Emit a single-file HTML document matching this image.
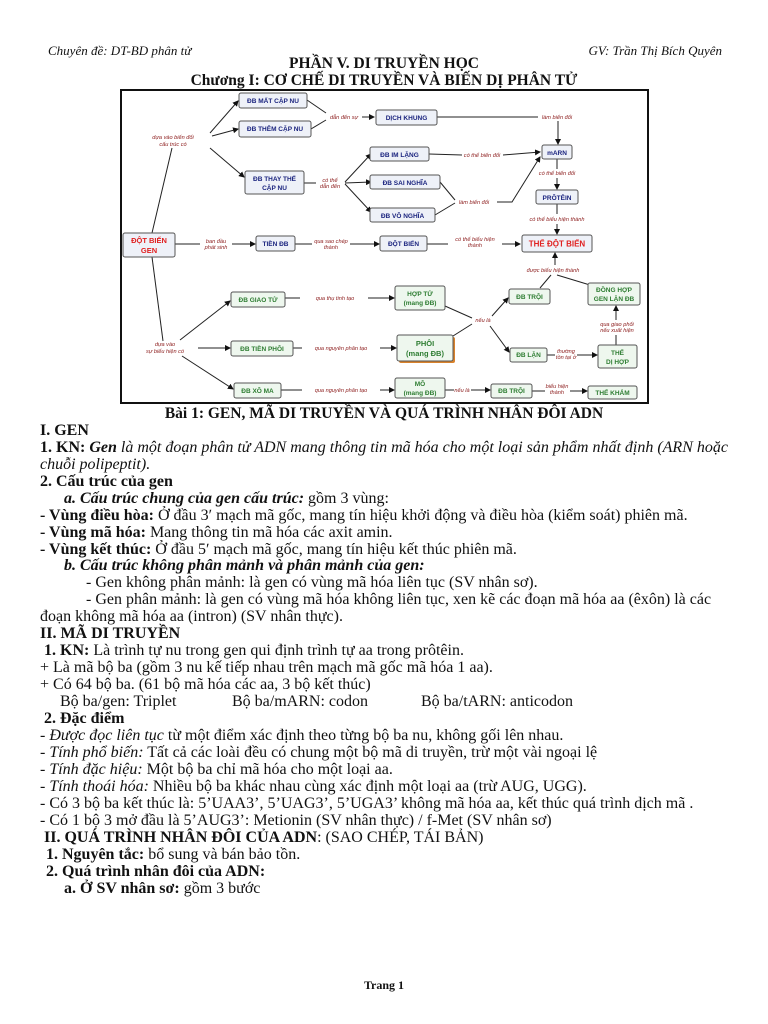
<!DOCTYPE html>
<html><head><meta charset="utf-8">
<style>
body{margin:0;background:#fff;}
#p{position:relative;width:768px;height:1024px;overflow:hidden;font-family:"Liberation Serif","DejaVu Serif",serif;color:#111;}
.l{position:absolute;left:40px;font-size:16px;line-height:17px;white-space:nowrap;}
.c{left:0;width:768px;text-align:center;font-weight:bold;font-size:15.5px;}
b{font-weight:bold}
.n{font-family:"Liberation Sans",sans-serif;font-weight:bold;font-size:6.5px;text-anchor:middle;}
.t{font-family:"Liberation Sans",sans-serif;font-style:italic;font-size:5.6px;fill:#8b1a1a;text-anchor:middle;}
</style></head><body><div id="p">
<div class="l" style="left:48px;top:42px;font-size:13px;font-style:italic">Chuyên đề: DT-BD phân tử</div>
<div class="l" style="left:auto;right:46px;top:42px;font-size:13px;font-style:italic">GV: Trần Thị Bích Quyên</div>
<div class="l c" style="top:55px">PHẦN V. DI TRUYỀN HỌC</div>
<div class="l c" style="top:72px">Chương I: CƠ CHẾ DI TRUYỀN VÀ BIẾN DỊ PHÂN TỬ</div>

<svg style="position:absolute;left:0;top:0" width="768" height="410">
<defs><marker id="a" markerWidth="6" markerHeight="6" refX="5" refY="3" orient="auto" markerUnits="userSpaceOnUse"><path d="M0,0L6,3L0,6z" fill="#111"/></marker></defs>
<rect x="121" y="90" width="527" height="313" fill="#fff" stroke="#111" stroke-width="2"/>
<g stroke="#222" stroke-width="1" fill="none">
<line x1="172" y1="148" x2="152" y2="233"/>
<line x1="210" y1="133" x2="238" y2="101" marker-end="url(#a)"/>
<line x1="212" y1="136" x2="238" y2="129" marker-end="url(#a)"/>
<line x1="210" y1="148" x2="244" y2="177" marker-end="url(#a)"/>
<line x1="307" y1="100" x2="326" y2="113"/><line x1="311" y1="129" x2="326" y2="120"/>
<line x1="362" y1="117" x2="374" y2="117" marker-end="url(#a)"/>
<line x1="437" y1="117" x2="538" y2="117"/>
<line x1="558" y1="121" x2="558" y2="144" marker-end="url(#a)"/>
<line x1="304" y1="183" x2="316" y2="183"/>
<line x1="345" y1="182" x2="371" y2="154" marker-end="url(#a)"/>
<line x1="345" y1="183" x2="371" y2="182" marker-end="url(#a)"/>
<line x1="345" y1="184" x2="371" y2="212" marker-end="url(#a)"/>
<line x1="429" y1="154" x2="462" y2="155"/>
<line x1="503" y1="155" x2="540" y2="152" marker-end="url(#a)"/>
<line x1="440" y1="182" x2="455" y2="200"/><line x1="435" y1="215" x2="455" y2="203"/>
<polyline points="497,202 512,202 540,157" marker-end="url(#a)"/>
<line x1="557" y1="159" x2="557" y2="169"/>
<line x1="557" y1="178" x2="557" y2="189" marker-end="url(#a)"/>
<line x1="557" y1="204" x2="557" y2="214"/>
<line x1="557" y1="224" x2="557" y2="234" marker-end="url(#a)"/>
<line x1="175" y1="244" x2="200" y2="244"/>
<line x1="232" y1="244" x2="255" y2="244" marker-end="url(#a)"/>
<line x1="295" y1="244" x2="312" y2="244"/>
<line x1="350" y1="244" x2="379" y2="244" marker-end="url(#a)"/>
<line x1="427" y1="244" x2="448" y2="244"/>
<line x1="502" y1="244" x2="520" y2="244" marker-end="url(#a)"/>
<line x1="152" y1="257" x2="163" y2="341"/>
<line x1="180" y1="340" x2="230" y2="301" marker-end="url(#a)"/>
<line x1="198" y1="348" x2="230" y2="348" marker-end="url(#a)"/>
<line x1="182" y1="356" x2="233" y2="389" marker-end="url(#a)"/>
<line x1="285" y1="298" x2="300" y2="298"/>
<line x1="368" y1="298" x2="394" y2="298" marker-end="url(#a)"/>
<line x1="293" y1="348" x2="302" y2="348"/>
<line x1="380" y1="348" x2="396" y2="348" marker-end="url(#a)"/>
<line x1="281" y1="390" x2="302" y2="390"/>
<line x1="380" y1="390" x2="394" y2="390" marker-end="url(#a)"/>
<line x1="445" y1="306" x2="472" y2="318"/><line x1="453" y1="336" x2="472" y2="324"/>
<line x1="492" y1="316" x2="508" y2="298" marker-end="url(#a)"/>
<line x1="490" y1="326" x2="509" y2="352" marker-end="url(#a)"/>
<line x1="445" y1="390" x2="454" y2="390"/>
<line x1="471" y1="390" x2="490" y2="390" marker-end="url(#a)"/>
<line x1="532" y1="391" x2="545" y2="391"/>
<line x1="570" y1="391" x2="587" y2="391" marker-end="url(#a)"/>
<line x1="547" y1="355" x2="555" y2="355"/>
<line x1="577" y1="355" x2="597" y2="355" marker-end="url(#a)"/>
<line x1="616" y1="345" x2="616" y2="335"/>
<line x1="616" y1="320" x2="616" y2="306" marker-end="url(#a)"/>
<line x1="540" y1="288" x2="551" y2="275"/><line x1="590" y1="285" x2="557" y2="275"/>
<line x1="555" y1="265" x2="555" y2="253" marker-end="url(#a)"/>
</g>
<g stroke="#555" stroke-width="1">
<g fill="#eef1f8">
<rect x="239" y="93" width="68" height="15" rx="2"/>
<rect x="239" y="121" width="72" height="16" rx="2"/>
<rect x="245" y="171" width="59" height="23" rx="2"/>
<rect x="123" y="233" width="52" height="24" rx="2"/>
<rect x="256" y="236" width="39" height="15" rx="2"/>
<rect x="380" y="236" width="47" height="15" rx="2"/>
<rect x="522" y="235" width="70" height="17" rx="2"/>
<rect x="376" y="110" width="61" height="15" rx="2"/>
<rect x="542" y="145" width="30" height="14" rx="2"/>
<rect x="370" y="147" width="59" height="14" rx="2"/>
<rect x="370" y="175" width="70" height="14" rx="2"/>
<rect x="370" y="208" width="65" height="14" rx="2"/>
<rect x="536" y="190" width="42" height="14" rx="2"/>
</g>
<g fill="#eef7ee">
<rect x="231" y="292" width="54" height="15" rx="2"/>
<rect x="395" y="286" width="50" height="24" rx="2"/>
<rect x="231" y="341" width="62" height="15" rx="2"/>
<rect x="399" y="337" width="56" height="26" rx="2" fill="#d9822b" stroke="none"/>
<rect x="397" y="335" width="56" height="26" rx="2"/>
<rect x="234" y="383" width="47" height="15" rx="2"/>
<rect x="395" y="378" width="50" height="20" rx="2"/>
<rect x="491" y="384" width="41" height="14" rx="2"/>
<rect x="588" y="386" width="49" height="13" rx="2"/>
<rect x="509" y="289" width="41" height="15" rx="2"/>
<rect x="510" y="348" width="37" height="14" rx="2"/>
<rect x="598" y="345" width="39" height="23" rx="2"/>
<rect x="588" y="283" width="52" height="22" rx="2"/>
</g></g>
<g class="n" fill="#1a237e">
<text x="273" y="103">ĐB MẤT CẶP NU</text>
<text x="275" y="131">ĐB THÊM CẶP NU</text>
<text x="274.5" y="181">ĐB THAY THẾ</text><text x="274.5" y="190">CẶP NU</text>
<text x="275.5" y="246">TIỀN ĐB</text>
<text x="403.5" y="246">ĐỘT BIẾN</text>
<text x="406.5" y="120">DỊCH KHUNG</text>
<text x="557" y="155">mARN</text>
<text x="399.5" y="157">ĐB IM LẶNG</text>
<text x="405" y="185">ĐB SAI NGHĨA</text>
<text x="402.5" y="218">ĐB VÔ NGHĨA</text>
<text x="557" y="200">PRÔTÊIN</text>
</g>
<g class="n" fill="#e02020" style="font-size:7.5px">
<text x="149" y="243">ĐỘT BIẾN</text><text x="149" y="253">GEN</text>
<text x="557" y="246.5" style="font-size:8px">THỂ ĐỘT BIẾN</text>
</g>
<g class="n" fill="#2e7d32">
<text x="258" y="302">ĐB GIAO TỬ</text>
<text x="420" y="296">HỢP TỬ</text><text x="420" y="305">(mang ĐB)</text>
<text x="262" y="351">ĐB TIỀN PHÔI</text>
<text x="425" y="346" style="font-size:7.5px">PHÔI</text><text x="425" y="356" style="font-size:7.5px">(mang ĐB)</text>
<text x="257.5" y="393">ĐB XÔ MA</text>
<text x="420" y="386">MÔ</text><text x="420" y="395">(mang ĐB)</text>
<text x="511.5" y="393">ĐB TRỘI</text>
<text x="612.5" y="395">THỂ KHẢM</text>
<text x="529.5" y="299">ĐB TRỘI</text>
<text x="528.5" y="357">ĐB LẶN</text>
<text x="617.5" y="355">THỂ</text><text x="617.5" y="364">DỊ HỢP</text>
<text x="614" y="292">ĐỒNG HỢP</text><text x="614" y="301">GEN LẶN ĐB</text>
</g>
<g class="t">
<text x="173" y="139">dựa vào biến đổi</text><text x="173" y="146">cấu trúc có</text>
<text x="344" y="119">dẫn đến sự</text>
<text x="557" y="119">làm biến đổi</text>
<text x="330" y="182">có thể</text><text x="330" y="188">dẫn đến</text>
<text x="482" y="157">có thể biến đổi</text>
<text x="474" y="204">làm biến đổi</text>
<text x="557" y="175">có thể biến đổi</text>
<text x="557" y="221">có thể biểu hiện thành</text>
<text x="216" y="243">ban đầu</text><text x="216" y="249">phát sinh</text>
<text x="331" y="243">qua sao chép</text><text x="331" y="249">thành</text>
<text x="475" y="241">có thể biểu hiện</text><text x="475" y="247">thành</text>
<text x="165" y="346">dựa vào</text><text x="165" y="353">sự biểu hiện có</text>
<text x="335" y="300">qua thụ tinh tạo</text>
<text x="341" y="350">qua nguyên phân tạo</text>
<text x="341" y="392">qua nguyên phân tạo</text>
<text x="462" y="392">nếu là</text>
<text x="483" y="322">nếu là</text>
<text x="557" y="388">biểu hiện</text><text x="557" y="394">thành</text>
<text x="566" y="353">thường</text><text x="566" y="359">tồn tại ở</text>
<text x="617" y="326">qua giao phối</text><text x="617" y="332">nếu xuất hiện</text>
<text x="553" y="272">được biểu hiện thành</text>
</g>
</svg>

<div class="l c" style="top:405px">Bài 1: GEN, MÃ DI TRUYỀN VÀ QUÁ TRÌNH NHÂN ĐÔI ADN</div>
<div class="l" style="top:422px"><b>I. GEN</b></div>
<div class="l" style="top:439px"><b>1. KN: </b><i><b>Gen</b> là một đoạn phân tử ADN mang thông tin mã hóa cho một loại sản phẩm nhất định (ARN hoặc</i></div>
<div class="l" style="top:456px"><i>chuỗi polipeptit).</i></div>
<div class="l" style="top:473px"><b>2. Cấu trúc của gen</b></div>
<div class="l" style="top:490px;left:64px"><b><i>a. Cấu trúc chung của gen cấu trúc:</i></b> gồm 3 vùng:</div>
<div class="l" style="top:507px"><b>- Vùng điều hòa:</b> Ở đầu 3ʹ mạch mã gốc, mang tín hiệu khởi động và điều hòa (kiểm soát) phiên mã.</div>
<div class="l" style="top:524px"><b>- Vùng mã hóa:</b> Mang thông tin mã hóa các axit amin.</div>
<div class="l" style="top:541px"><b>- Vùng kết thúc:</b> Ở đầu 5ʹ mạch mã gốc, mang tín hiệu kết thúc phiên mã.</div>
<div class="l" style="top:557px;left:64px"><b><i>b. Cấu trúc không phân mảnh và phân mảnh của gen:</i></b></div>
<div class="l" style="top:574px;left:86px">- Gen không phân mảnh: là gen có vùng mã hóa liên tục (SV nhân sơ).</div>
<div class="l" style="top:591px;left:86px">- Gen phân mảnh: là gen có vùng mã hóa không liên tục, xen kẽ các đoạn mã hóa aa (êxôn) là các</div>
<div class="l" style="top:608px">đoạn không mã hóa aa (intron) (SV nhân thực).</div>
<div class="l" style="top:625px"><b>II. MÃ DI TRUYỀN</b></div>
<div class="l" style="top:642px;left:44px"><b>1. KN:</b> Là trình tự nu trong gen qui định trình tự aa trong prôtêin.</div>
<div class="l" style="top:659px">+ Là mã bộ ba (gồm 3 nu kế tiếp nhau trên mạch mã gốc mã hóa 1 aa).</div>
<div class="l" style="top:676px">+ Có 64 bộ ba. (61 bộ mã hóa các aa, 3 bộ kết thúc)</div>
<div class="l" style="top:693px;left:60px">Bộ ba/gen: Triplet</div>
<div class="l" style="top:693px;left:232px">Bộ ba/mARN: codon</div>
<div class="l" style="top:693px;left:421px">Bộ ba/tARN: anticodon</div>
<div class="l" style="top:710px;left:44px"><b>2. Đặc điểm</b></div>
<div class="l" style="top:727px">- <i>Được đọc liên tục</i> từ một điểm xác định theo từng bộ ba nu, không gối lên nhau.</div>
<div class="l" style="top:744px">- <i>Tính phổ biến:</i> Tất cả các loài đều có chung một bộ mã di truyền, trừ một vài ngoại lệ</div>
<div class="l" style="top:761px">- <i>Tính đặc hiệu:</i> Một bộ ba chỉ mã hóa cho một loại aa.</div>
<div class="l" style="top:778px">- <i>Tính thoái hóa:</i> Nhiều bộ ba khác nhau cùng xác định một loại aa (trừ AUG, UGG).</div>
<div class="l" style="top:795px">- Có 3 bộ ba kết thúc là: 5’UAA3’, 5’UAG3’, 5’UGA3’ không mã hóa aa, kết thúc quá trình dịch mã .</div>
<div class="l" style="top:812px">- Có 1 bộ 3 mở đầu là 5’AUG3’: Metionin (SV nhân thực) / f-Met (SV nhân sơ)</div>
<div class="l" style="top:829px;left:44px"><b>II. QUÁ TRÌNH NHÂN ĐÔI CỦA ADN</b>: (SAO CHÉP, TÁI BẢN)</div>
<div class="l" style="top:846px;left:46px"><b>1. Nguyên tắc:</b> bổ sung và bán bảo tồn.</div>
<div class="l" style="top:863px;left:46px"><b>2. Quá trình nhân đôi của ADN:</b></div>
<div class="l" style="top:880px;left:64px"><b>a. Ở SV nhân sơ:</b> gồm 3 bước</div>
<div class="l c" style="top:977px;font-size:12px">Trang 1</div>
</div></body></html>
